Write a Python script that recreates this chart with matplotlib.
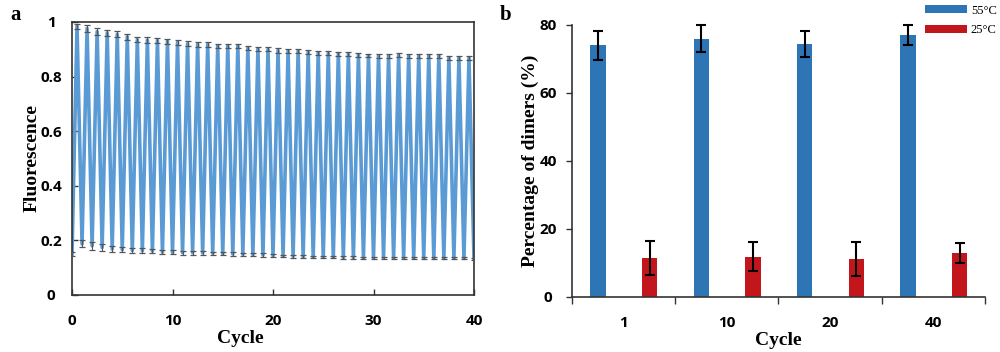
import numpy as np
import matplotlib
matplotlib.use('Agg')
import matplotlib.pyplot as plt
from matplotlib.ticker import MultipleLocator

# panel a: fluorescence over 40 heating/cooling cycles
# highs sit at half cycles (0.5 .. 39.5), lows at whole cycles (0 .. 40)
high_vals = [0.984, 0.976, 0.965, 0.960, 0.955, 0.946, 0.935, 0.934, 0.932, 0.930,
             0.925, 0.920, 0.918, 0.918, 0.913, 0.912, 0.912, 0.904, 0.902, 0.900,
             0.895, 0.894, 0.894, 0.890, 0.886, 0.885, 0.884, 0.882, 0.880, 0.877,
             0.876, 0.876, 0.878, 0.876, 0.876, 0.876, 0.876, 0.868, 0.868, 0.868]
high_err = [0.010, 0.012, 0.012, 0.011, 0.011, 0.011, 0.010, 0.010, 0.010, 0.009,
            0.009, 0.009, 0.009, 0.009, 0.008, 0.008, 0.008, 0.008, 0.008, 0.008,
            0.008, 0.008, 0.008, 0.008, 0.007, 0.007, 0.007, 0.007, 0.007, 0.007,
            0.007, 0.007, 0.007, 0.007, 0.007, 0.007, 0.007, 0.007, 0.007, 0.007]
low_vals = [0.150, 0.187, 0.180, 0.174, 0.168, 0.166, 0.163, 0.162, 0.161, 0.157,
            0.156, 0.155, 0.155, 0.154, 0.153, 0.151, 0.150, 0.149, 0.148, 0.146,
            0.144, 0.143, 0.142, 0.140, 0.139, 0.139, 0.138, 0.137, 0.137, 0.136,
            0.136, 0.136, 0.135, 0.135, 0.135, 0.134, 0.134, 0.134, 0.134, 0.134,
            0.133]
low_err = [0.008, 0.013, 0.014, 0.012, 0.011, 0.010, 0.009, 0.009, 0.008, 0.008,
           0.007, 0.007, 0.007, 0.007, 0.006, 0.006, 0.006, 0.006, 0.006, 0.006,
           0.005, 0.005, 0.005, 0.005, 0.005, 0.005, 0.004, 0.004, 0.004, 0.004,
           0.004, 0.004, 0.004, 0.004, 0.004, 0.004, 0.004, 0.004, 0.004, 0.004,
           0.004]

# panel b: dimer percentage
cycles = ['1', '10', '20', '40']
hot_vals = [74.0, 76.0, 74.4, 77.0]
hot_err = [4.3, 3.9, 3.7, 3.0]
cold_vals = [11.3, 11.8, 11.2, 12.8]
cold_err = [5.0, 4.3, 5.0, 3.0]

LINE = '#5B9BD5'
BLUE, RED = '#2E75B6', '#C3161C'
TICKFONT = dict(family='Open Sans', weight='bold', size=11)
SERIF = 'Liberation Serif'

# interleave lows and highs into one zigzag
n_low = len(low_vals)
x = np.empty(n_low + len(high_vals))
y = np.empty_like(x)
e = np.empty_like(x)
x[0::2] = np.arange(n_low); y[0::2] = low_vals; e[0::2] = low_err
x[1::2] = np.arange(len(high_vals)) + 0.5; y[1::2] = high_vals; e[1::2] = high_err

fig = plt.figure(figsize=(10, 3.52), dpi=100)

ax = fig.add_axes([0.072, 0.162, 0.402, 0.7756])
ax.errorbar(x, y, yerr=e, fmt='none', ecolor='#555555', elinewidth=0.8, capsize=2.2, capthick=0.9, zorder=3)
ax.plot(x, y, color=LINE, lw=2.6, zorder=2)
ax.set_xlim(0, 40); ax.set_ylim(0, 1)
ax.set_xticks([0, 10, 20, 30, 40])
ax.set_yticks([0, 0.2, 0.4, 0.6, 0.8, 1.0])
ax.set_yticklabels(['0', '0.2', '0.4', '0.6', '0.8', '1'])
ax.tick_params(axis='both', direction='in', length=4, width=1, color='#333333')
ax.tick_params(axis='x', pad=14)
ax.tick_params(axis='y', pad=15)
for lbl in ax.get_xticklabels() + ax.get_yticklabels():
    lbl.set_fontproperties(TICKFONT)
for lbl in ax.get_yticklabels():
    lbl.set_ha('center')
for s in ax.spines.values():
    s.set_color('#333333'); s.set_linewidth(1.2)
ax.set_ylabel('Fluorescence', fontsize=14, fontweight='bold', family=SERIF, labelpad=0)
ax.set_xlabel('Cycle', fontsize=14, fontweight='bold', family=SERIF, labelpad=0)
ax.xaxis.set_label_coords(0.418, -0.13)
fig.text(0.01, 0.985, 'a', fontsize=15, fontweight='bold', family=SERIF, va='top')

# panel b
bx = fig.add_axes([0.5717, 0.157, 0.4133, 0.772])
pos = np.arange(len(cycles)) + 0.5
bx.bar(pos - 0.245, hot_vals, 0.15, color=BLUE, label='55°C', zorder=2)
bx.bar(pos + 0.255, cold_vals, 0.15, color=RED, label='25°C', zorder=2)
bx.errorbar(pos - 0.245, hot_vals, yerr=hot_err, fmt='none', ecolor='black', elinewidth=1.5,
            capsize=3.5, capthick=1.5, zorder=3, clip_on=False)
bx.errorbar(pos + 0.255, cold_vals, yerr=cold_err, fmt='none', ecolor='black', elinewidth=1.5,
            capsize=3.5, capthick=1.5, zorder=3, clip_on=False)
bx.set_xlim(0, len(cycles)); bx.set_ylim(0, 80)
bx.set_xticks(np.arange(len(cycles) + 1))
bx.set_xticklabels([])
bx.set_xticks(pos, minor=True)
bx.set_xticklabels(cycles, minor=True)
bx.tick_params(axis='x', which='major', direction='out', length=5, width=1, color='#333333')
bx.tick_params(axis='x', which='minor', length=0, pad=14)
bx.yaxis.set_major_locator(MultipleLocator(20))
bx.tick_params(axis='y', direction='out', length=4, width=1, color='#333333', pad=13)
for lbl in bx.get_xticklabels(minor=True) + bx.get_yticklabels():
    lbl.set_fontproperties(TICKFONT)
for lbl in bx.get_yticklabels():
    lbl.set_ha('center')
bx.spines['top'].set_visible(False); bx.spines['right'].set_visible(False)
for s in ('left', 'bottom'):
    bx.spines[s].set_color('#333333'); bx.spines[s].set_linewidth(1.2)
bx.set_ylabel('Percentage of dimers (%)', fontsize=14, fontweight='bold', family=SERIF, labelpad=0)
bx.set_xlabel('Cycle', fontsize=14, fontweight='bold', family=SERIF)
bx.xaxis.set_label_coords(0.5, -0.13)
fig.legend(*bx.get_legend_handles_labels(), loc='upper right', bbox_to_anchor=(0.998, 0.99),
           frameon=False, handlelength=3.4, handleheight=0.6, labelspacing=0.6, handletextpad=0.3,
           borderpad=0.1, borderaxespad=0, prop=dict(family=SERIF, size=9))
fig.text(0.50, 0.985, 'b', fontsize=15, fontweight='bold', family=SERIF, va='top')

fig.savefig('out.png', dpi=100)
